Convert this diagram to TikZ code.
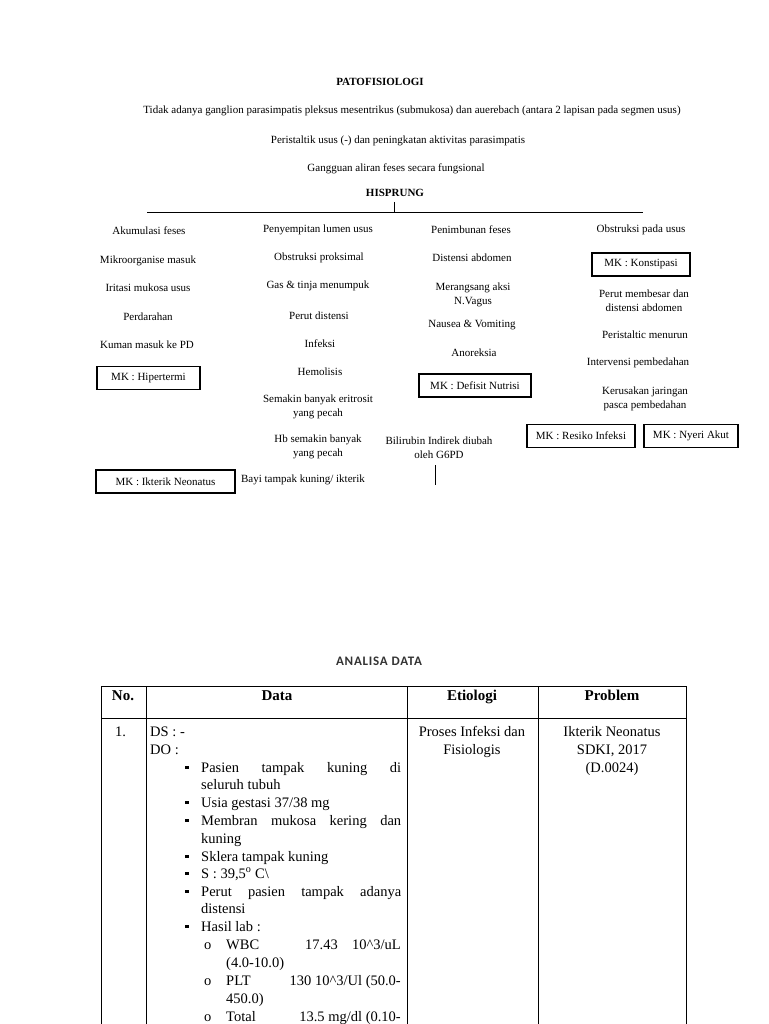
\documentclass[tikz,border=0pt]{standalone}
\usepackage{fontspec}
\setmainfont{Liberation Serif}
\newfontfamily\hdsans[LetterSpace=6]{Carlito}
\begin{document}
\begin{tikzpicture}[x=1pt,y=-1pt,
  lbl/.style={inner sep=0pt, align=center, font=\fontsize{11}{14}\selectfont},
  ttl/.style={inner sep=0pt, font=\fontsize{11}{14}\selectfont\bfseries},
  mk/.style={draw, line width=1.1pt, minimum width=#1, minimum height=23pt, inner sep=0pt, font=\fontsize{11}{13}\selectfont},
  td/.style={inner sep=0pt, anchor=base west, font=\fontsize{14.5}{18}\selectfont},
  tc/.style={inner sep=0pt, anchor=north, align=center, font=\fontsize{14.5}{17.8}\selectfont},
  th/.style={inner sep=0pt, anchor=base, font=\fontsize{15}{18}\selectfont\bfseries},
  bul/.style={fill=black, inner sep=0pt, minimum size=3.8pt},
  conn/.style={line width=0.8pt},
  grid/.style={line width=1pt}]
\useasboundingbox (0,0) rectangle (768,1024);

% ---------- header texts ----------
\node[ttl] (title) at (380,82) {PATOFISIOLOGI};
\node[lbl] (t1) at (412,111) {Tidak adanya ganglion parasimpatis pleksus mesentrikus (submukosa) dan auerebach (antara 2 lapisan pada segmen usus)};
\node[lbl] (t2) at (398,141) {Peristaltik usus (-) dan peningkatan aktivitas parasimpatis};
\node[lbl] (t3) at (396,169) {Gangguan aliran feses secara fungsional};
\node[ttl] (hisprung) at (395,193) {HISPRUNG};

\coordinate (busL) at (147,212);
\coordinate (busR) at (643,212);
\coordinate (busM) at (394,212);
\draw[conn] (busL) -- (busR);
\draw[conn] ([yshift=-5pt]hisprung.south -| busM) -- (busM);

% ---------- column 1 ----------
\node[lbl] (a1) at (149,231) {Akumulasi feses};
\node[lbl] (a2) at (148,261) {Mikroorganise masuk};
\node[lbl] (a3) at (148,288) {Iritasi mukosa usus};
\node[lbl] (a4) at (148,317) {Perdarahan};
\node[lbl] (a5) at (147,345) {Kuman masuk ke PD};
\node[mk=103pt] (mkHip) at (148.5,378) {MK : Hipertermi};
\node[mk=139pt] (mkIkt) at (165.5,481.5) {MK : Ikterik Neonatus};

% ---------- column 2 ----------
\node[lbl] (b1) at (318,230) {Penyempitan lumen usus};
\node[lbl] (b2) at (319,258) {Obstruksi proksimal};
\node[lbl] (b3) at (318,286) {Gas \& tinja menumpuk};
\node[lbl] (b4) at (319,316) {Perut distensi};
\node[lbl] (b5) at (320,344) {Infeksi};
\node[lbl] (b6) at (320,372) {Hemolisis};
\node[lbl] (b7) at (318,407) {Semakin banyak eritrosit\\yang pecah};
\node[lbl] (b8) at (318,447) {Hb semakin banyak\\yang pecah};
\node[lbl] (b9) at (303,480) {Bayi tampak kuning/ ikterik};

% ---------- column 3 ----------
\node[lbl] (c1) at (471,230) {Penimbunan feses};
\node[lbl] (c2) at (472,258) {Distensi abdomen};
\node[lbl] (c3) at (473,295) {Merangsang aksi\\N.Vagus};
\node[lbl] (c4) at (472,325) {Nausea \& Vomiting};
\node[lbl] (c5) at (474,353) {Anoreksia};
\node[mk=112pt] (mkDef) at (475,385.5) {MK : Defisit Nutrisi};
\node[lbl] (bili) at (439,448) {Bilirubin Indirek diubah\\oleh G6PD};
\coordinate (biliTop) at (435,465);
\coordinate (biliEnd) at (435,485);
\draw[conn] (biliTop) -- (biliEnd);

% ---------- column 4 ----------
\node[lbl] (d1) at (641,230) {Obstruksi pada usus};
\node[mk=98pt] (mkKon) at (641,264.5) {MK : Konstipasi};
\node[lbl] (d2) at (644,301) {Perut membesar dan\\distensi abdomen};
\node[lbl] (d3) at (645,335) {Peristaltic menurun};
\node[lbl] (d4) at (638,363) {Intervensi pembedahan};
\node[lbl] (d5) at (645,399) {Kerusakan jaringan\\pasca pembedahan};
\node[mk=108pt] (mkRes) at (581,436) {MK : Resiko Infeksi};
\node[mk=94pt] (mkNye) at (691,436) {MK : Nyeri Akut};

% ---------- ANALISA DATA ----------
\node[inner sep=0pt, font=\hdsans\fontsize{13}{15}\selectfont\bfseries, text=black!80] (analisa) at (379,661) {ANALISA DATA};

% table grid
\coordinate (g00) at (101,686);
\coordinate (g10) at (146,686);
\coordinate (g20) at (407,686);
\coordinate (g30) at (538,686);
\coordinate (g40) at (686,686);
\draw[grid] (g00) -- (g40);
\draw[grid] (101,718) -- (686,718);
\draw[grid] (g00) -- (101,1024);
\draw[grid] (g10) -- (146,1024);
\draw[grid] (g20) -- (407,1024);
\draw[grid] (g30) -- (538,1024);
\draw[grid] (g40) -- (686,1024);

% header
\node[th] (hNo) at (123,700) {No.};
\node[th] (hData) at (277,700) {Data};
\node[th] (hEti) at (472,700) {Etiologi};
\node[th] (hProb) at (612,700) {Problem};

% row 1
\node[td] (n1) at (115,736) {1.};
\node[td] (ds) at (150,736) {DS : -};
\node[td] (do) at (150,754) {DO :};

\node[bul] (s1) at (187,767.5) {};
\node[td] (l1) at (201,772) {\makebox[200pt][s]{Pasien tampak kuning di}};
\node[td] (l2) at (201,789.5) {seluruh tubuh};
\node[bul] (s2) at (187,802.5) {};
\node[td] (l3) at (201,807) {Usia gestasi 37/38 mg};
\node[bul] (s3) at (187,820.5) {};
\node[td] (l4) at (201,825) {\makebox[200pt][s]{Membran mukosa kering dan}};
\node[td] (l5) at (201,843) {kuning};
\node[bul] (s4) at (187,856.5) {};
\node[td] (l6) at (201,861) {Sklera tampak kuning};
\node[bul] (s5) at (187,873.5) {};
\node[td] (l7) at (201,878) {S : 39,5\textsuperscript{o} C\textbackslash};
\node[bul] (s6) at (187,891.5) {};
\node[td] (l8) at (201,896) {\makebox[200pt][s]{Perut pasien tampak adanya}};
\node[td] (l9) at (201,913.5) {distensi};
\node[bul] (s7) at (187,926.5) {};
\node[td] (l10) at (201,931) {Hasil lab :};

\node[td] (o1) at (204,949) {o};
\node[td] (l11) at (226,949) {WBC};
\node[td] (l11b) at (305,949) {17.43};
\node[td, anchor=base east] (l11c) at (401,949) {10\textasciicircum 3/uL};
\node[td] (l12) at (226,967) {(4.0-10.0)};
\node[td] (o2) at (204,985) {o};
\node[td] (l13) at (226,985) {PLT};
\node[td, anchor=base east] (l13b) at (401,985) {130 10\textasciicircum 3/Ul (50.0-};
\node[td] (l14) at (226,1003) {450.0)};
\node[td] (o3) at (204,1021) {o};
\node[td] (l15) at (226,1021) {Total};
\node[td, anchor=base east] (l15b) at (401,1021) {13.5 mg/dl (0.10-};

\node[tc] (eti) at (472,726.5) {Proses Infeksi dan\\Fisiologis};
\node[tc] (prob) at (612,726.5) {Ikterik Neonatus\\SDKI, 2017\\(D.0024)};
\end{tikzpicture}
\end{document}
